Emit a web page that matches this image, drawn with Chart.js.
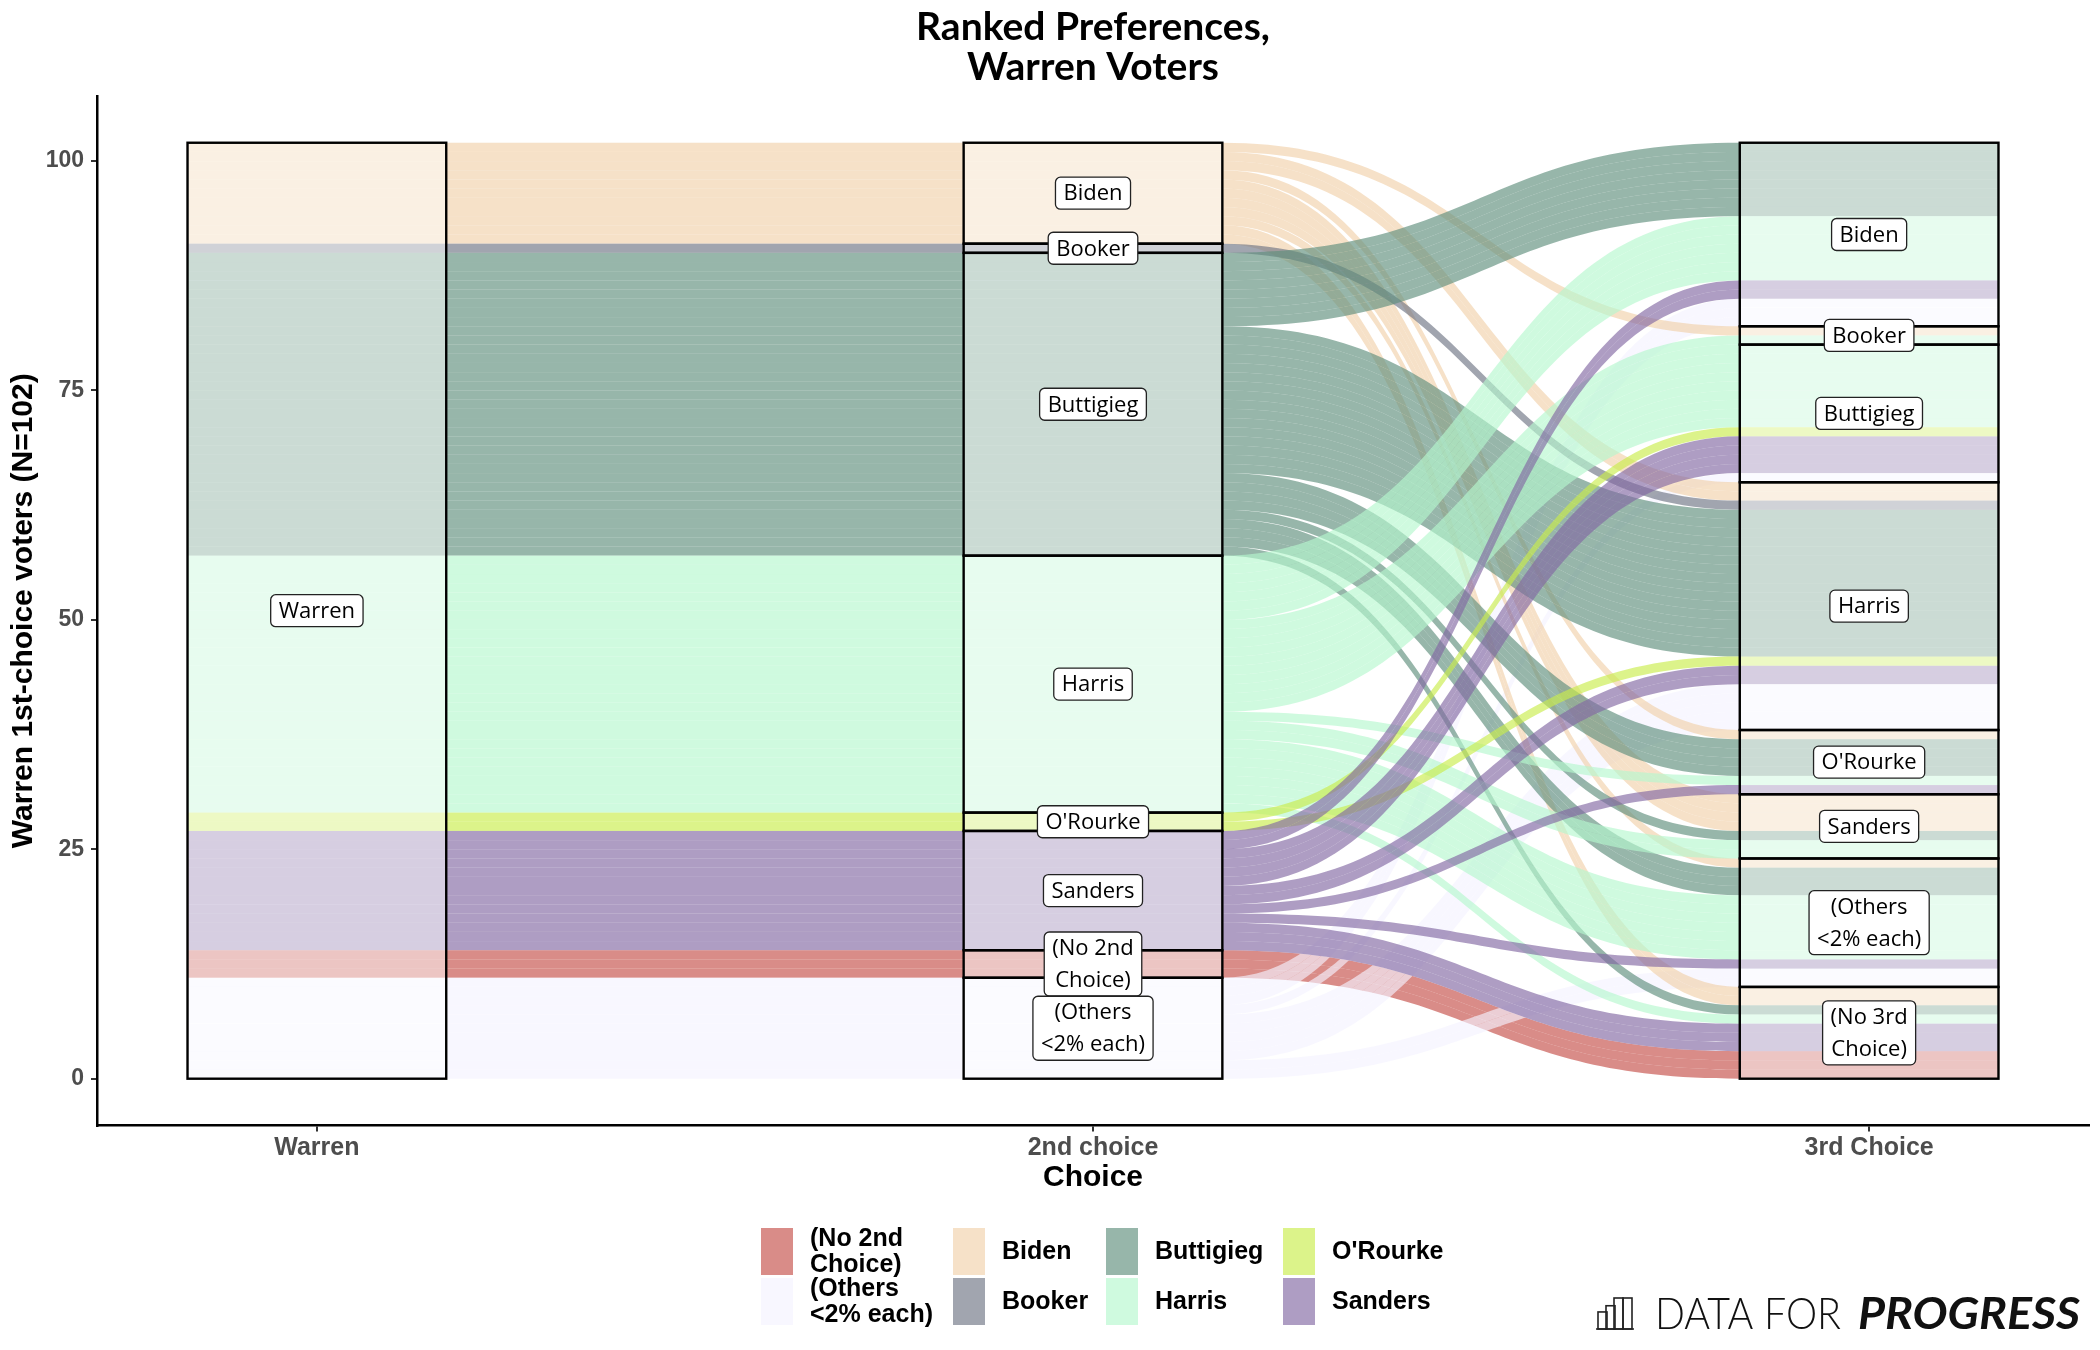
<!DOCTYPE html>
<html>
<head>
<meta charset="utf-8">
<script src="https://cdn.jsdelivr.net/npm/chart.js@4.4.0/dist/chart.umd.min.js"></script>
<style>
html,body{margin:0;padding:0;background:#fff;}
#wrap{width:2100px;height:1350px;position:relative;}
</style>
</head>
<body>
<div id="wrap"><canvas id="c" width="2100" height="1350"></canvas></div>
<script>
// ---------------- data ----------------
const axisLabels = ['Warren', '2nd choice', '3rd Choice'];
const firstChoice = 'Warren';
const secondChoices = ['Biden', 'Booker', 'Buttigieg', 'Harris', "O'Rourke", 'Sanders', '(No 2nd Choice)', '(Others <2% each)'];
const thirdChoices  = ['Biden', 'Booker', 'Buttigieg', 'Harris', "O'Rourke", 'Sanders', '(Others <2% each)', '(No 3rd Choice)'];
// voters moving from each 2nd choice to each 3rd choice (columns follow thirdChoices)
const fromBiden     = [0, 1, 0, 2, 1, 4, 1, 2];
const fromBooker    = [0, 0, 0, 1, 0, 0, 0, 0];
const fromButtigieg = [8, 0, 0, 16, 4, 1, 3, 1];
const fromHarris    = [7, 1, 9, 0, 1, 2, 7, 1];
const fromORourke   = [0, 0, 1, 1, 0, 0, 0, 0];
const fromSanders   = [2, 0, 4, 2, 1, 0, 1, 3];
const fromNoSecond  = [0, 0, 0, 0, 0, 0, 0, 3];
const fromOthers    = [3, 0, 1, 5, 0, 0, 2, 0];
const yTicks = [0, 25, 50, 75, 100];
const legendOrder = ['(No 2nd Choice)', '(Others <2% each)', 'Biden', 'Booker', 'Buttigieg', 'Harris', "O'Rourke", 'Sanders'];
const colorOf = {
  '(No 2nd Choice)': '#D98C88',
  '(Others <2% each)': '#F8F7FF',
  'Biden': '#F6E1C8',
  'Booker': '#A1A5AF',
  'Buttigieg': '#97B6AA',
  'Harris': '#CFFADF',
  "O'Rourke": '#DCF38A',
  'Sanders': '#AE9DC3'
};
const lineBreaks = {
  '(No 2nd Choice)': ['(No 2nd', 'Choice)'],
  '(No 3rd Choice)': ['(No 3rd', 'Choice)'],
  '(Others <2% each)': ['(Others', '<2% each)']
};

// ---------------- derived structure ----------------
const flowRows = [fromBiden, fromBooker, fromButtigieg, fromHarris, fromORourke, fromSanders, fromNoSecond, fromOthers];
const sum = a => a.reduce((s, v) => s + v, 0);
const secondTotals = flowRows.map(sum);
const thirdTotals = thirdChoices.map((_, j) => sum(flowRows.map(r => r[j])));
const N = sum(secondTotals);
function stack(totals) {
  let cur = N;
  return totals.map(t => { const top = cur; cur -= t; return { top, bottom: cur }; });
}
const secondStrata = stack(secondTotals);
const thirdStrata = stack(thirdTotals);
const flows = [];
(function () {
  const outC = secondStrata.map(s => s.top);
  const inC = thirdStrata.map(s => s.top);
  flowRows.forEach((row, i) => row.forEach((n, j) => {
    if (!n) return;
    flows.push({ i, j, n, s0: outC[i], e0: inC[j] });
    outC[i] -= n; inC[j] -= n;
  }));
})();
// drawing order follows the fill factor levels (legend order)
const drawOrder = flows.slice().sort((a, b) =>
  legendOrder.indexOf(secondChoices[a.i]) - legendOrder.indexOf(secondChoices[b.i]));

// ---------------- style helpers ----------------
const FLOW_ALPHA = 0.65;
const LODE_ALPHA = 0.325;
function hexRgb(h) { return [1, 3, 5].map(k => parseInt(h.slice(k, k + 2), 16)); }
function tint(name, a) {
  const c = hexRgb(colorOf[name]).map(v => Math.max(0, Math.min(255, Math.round((v - 255 * (1 - FLOW_ALPHA)) / FLOW_ALPHA))));
  return `rgba(${c[0]},${c[1]},${c[2]},${a})`;
}
const HALF = 1 / 6;
const AXIS_FONT = '"Liberation Sans", Arial, sans-serif';
const LABEL_FONT = '"Open Sans", "Noto Sans", sans-serif';

function labelLines(name) { return lineBreaks[name] || [name]; }

function drawLabel(ctx, cx, cy, lines) {
  ctx.save();
  ctx.font = '22px ' + LABEL_FONT;
  const lh = 32;
  const w = Math.max(...lines.map(l => ctx.measureText(l).width)) + 16;
  const h = (lines.length - 1) * lh + 32;
  const x0 = cx - w / 2, y0 = cy - h / 2;
  ctx.beginPath();
  ctx.roundRect(x0, y0, w, h, 5);
  ctx.fillStyle = '#fff';
  ctx.fill();
  ctx.lineWidth = 1.3;
  ctx.strokeStyle = '#222';
  ctx.stroke();
  ctx.fillStyle = '#000';
  ctx.textAlign = 'center';
  ctx.textBaseline = 'middle';
  lines.forEach((l, k) => ctx.fillText(l, cx, y0 + 16 + k * lh + 1));
  ctx.restore();
}

const alluvialPlugin = {
  id: 'alluvial',
  afterDatasetsDraw(chart) {
    const { ctx, scales: { x, y } } = chart;
    const X = v => x.getPixelForValue(v);
    const Y = v => y.getPixelForValue(v);
    const rect = (pos, top, bottom, fill) => {
      ctx.fillStyle = fill;
      ctx.fillRect(X(pos - HALF), Y(top), X(pos + HALF) - X(pos - HALF), Y(bottom) - Y(top));
    };
    ctx.save();
    // lodes on axes 1 and 2, horizontal flows 1 -> 2
    secondChoices.forEach((name, i) => {
      const s = secondStrata[i];
      for (let u = 0; u < secondTotals[i]; u++) {
        const t = s.top - u, b = s.top - u - 1;
        rect(1, t, b, tint(name, LODE_ALPHA));
        rect(2, t, b, tint(name, LODE_ALPHA));
        ctx.fillStyle = tint(name, FLOW_ALPHA);
        ctx.fillRect(X(1 + HALF), Y(t), X(2 - HALF) - X(1 + HALF), Y(b) - Y(t));
      }
    });
    // curved flows 2 -> 3 and lodes on axis 3
    const xa = X(2 + HALF), xb = X(3 - HALF), xm = (xa + xb) / 2;
    drawOrder.forEach(f => {
      const name = secondChoices[f.i];
      for (let u = 0; u < f.n; u++) {
        const at = Y(f.s0 - u), ab = Y(f.s0 - u - 1);
        const bt = Y(f.e0 - u), bb = Y(f.e0 - u - 1);
        ctx.beginPath();
        ctx.moveTo(xa, at);
        ctx.bezierCurveTo(xm, at, xm, bt, xb, bt);
        ctx.lineTo(xb, bb);
        ctx.bezierCurveTo(xm, bb, xm, ab, xa, ab);
        ctx.closePath();
        ctx.fillStyle = tint(name, FLOW_ALPHA);
        ctx.fill();
        rect(3, f.e0 - u, f.e0 - u - 1, tint(name, LODE_ALPHA));
      }
    });
    // strata outlines
    ctx.strokeStyle = '#000';
    ctx.lineWidth = 2.4;
    const box = (pos, top, bottom) => ctx.strokeRect(X(pos - HALF), Y(top), X(pos + HALF) - X(pos - HALF), Y(bottom) - Y(top));
    box(1, N, 0);
    secondStrata.forEach(s => box(2, s.top, s.bottom));
    thirdStrata.forEach(s => box(3, s.top, s.bottom));
    // stratum labels
    drawLabel(ctx, X(1), Y(N / 2), [firstChoice]);
    secondChoices.forEach((n, i) => drawLabel(ctx, X(2), Y((secondStrata[i].top + secondStrata[i].bottom) / 2), labelLines(n)));
    thirdChoices.forEach((n, j) => drawLabel(ctx, X(3), Y((thirdStrata[j].top + thirdStrata[j].bottom) / 2), labelLines(n)));
    ctx.restore();
  },
  afterDraw(chart) {
    const ctx = chart.ctx;
    ctx.save();
    // legend (2 rows, filled by column)
    const keyX = [761, 953, 1106, 1283];
    const rowTop = [1228, 1278];
    const keyW = 32, keyH = 47;
    legendOrder.forEach((name, k) => {
      const col = Math.floor(k / 2), row = k % 2;
      ctx.fillStyle = colorOf[name];
      ctx.fillRect(keyX[col], rowTop[row], keyW, keyH);
      ctx.fillStyle = '#000';
      ctx.font = 'bold 25px ' + AXIS_FONT;
      ctx.textAlign = 'left';
      ctx.textBaseline = 'middle';
      const lines = labelLines(name);
      const cy = rowTop[row] + keyH / 2 + 1;
      lines.forEach((l, m) => ctx.fillText(l, keyX[col] + keyW + 17, cy + (m - (lines.length - 1) / 2) * 26));
    });
    // logo
    const base = 1329, capTop = 1298;
    ctx.strokeStyle = '#222';
    ctx.lineWidth = 1.6;
    const bars = [[1598, 0.55], [1606, 0.75], [1614, 1.0], [1623, 1.0]];
    bars.forEach(([bx, f]) => {
      const h = (base - capTop) * f;
      ctx.strokeRect(bx, base - h, 9, h);
    });
    ctx.beginPath(); ctx.moveTo(1596, base); ctx.lineTo(1634, base); ctx.stroke();
    const fitText = (txt, font, x0, width) => {
      ctx.font = font;
      const w = ctx.measureText(txt).width;
      ctx.save();
      ctx.translate(x0, base);
      ctx.scale(width / w, 1);
      ctx.textAlign = 'left';
      ctx.textBaseline = 'alphabetic';
      ctx.fillStyle = '#111';
      ctx.fillText(txt, 0, 0);
      ctx.restore();
    };
    fitText('DATA FOR', '300 43px Lato, "Open Sans", sans-serif', 1655, 186);
    fitText('PROGRESS', 'italic bold 43px Lato, "Open Sans", sans-serif', 1858, 222);
    ctx.restore();
  }
};

const tickFont = size => ({ family: AXIS_FONT, weight: 'bold', size });

new Chart(document.getElementById('c'), {
  type: 'scatter',
  data: { datasets: [{ data: [], showLine: false }] },
  options: {
    responsive: false,
    devicePixelRatio: 1,
    animation: false,
    layout: { padding: { left: 0, right: 11, top: 0, bottom: 152.5 } },
    plugins: {
      legend: { display: false },
      tooltip: { enabled: false },
      title: {
        display: true,
        text: ['Ranked Preferences,', 'Warren Voters'],
        font: { family: 'Lato, "Open Sans", sans-serif', weight: 'bold', size: 39, lineHeight: 1.03 },
        color: '#000',
        padding: { top: 7, bottom: 8.6 },
        fullSize: false
      }
    },
    scales: {
      x: {
        type: 'linear',
        min: 0.7167,
        max: 3.2833,
        afterBuildTicks: s => { s.ticks = axisLabels.map((_, k) => ({ value: k + 1 })); },
        afterFit: s => { s.height = 72; },
        ticks: {
          callback: v => axisLabels[Math.round(v) - 1],
          font: tickFont(25),
          color: '#4D4D4D',
          padding: 2,
          maxRotation: 0,
          autoSkip: false
        },
        grid: { drawOnChartArea: false, drawTicks: true, tickLength: 6, color: '#333', lineWidth: 2 },
        border: { display: true, color: '#000', width: 2.5 },
        title: { display: true, text: 'Choice', font: tickFont(30), color: '#000', padding: { top: 0, bottom: 2 } }
      },
      y: {
        type: 'linear',
        min: -5.1,
        max: 107.1,
        afterBuildTicks: s => { s.ticks = yTicks.map(v => ({ value: v })); },
        afterFit: s => { s.width = 97; },
        ticks: { font: tickFont(23), color: '#4D4D4D', padding: 7 },
        grid: { drawOnChartArea: false, drawTicks: true, tickLength: 6, color: '#333', lineWidth: 2 },
        border: { display: true, color: '#000', width: 2.5 },
        title: { display: true, text: 'Warren 1st-choice voters (N=102)', font: tickFont(30), color: '#000', padding: { top: 6, bottom: 0 } }
      }
    }
  },
  plugins: [alluvialPlugin]
});
</script>
</body>
</html>
